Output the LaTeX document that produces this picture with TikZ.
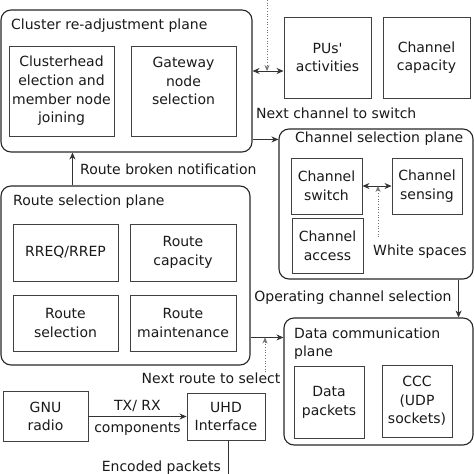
\documentclass[tikz,border=0pt]{standalone}
\usepackage{fontspec}
\setmainfont{DejaVu Sans}
\usetikzlibrary{arrows.meta, positioning}
\newcommand{\lbl}{\fontsize{14}{18.7}\selectfont}

\begin{document}
\begin{tikzpicture}[
  x=1pt, y=-1pt,
  plane/.style={rectangle, rounded corners=10pt, draw=black!85, line width=1.1pt, inner sep=0pt},
  block/.style={rectangle, draw=black!75, line width=0.9pt, align=center, inner sep=0pt, font=\lbl, text=black!90},
  title/.style={anchor=west, inner sep=0pt, align=left, font=\lbl, text=black!90},
  note/.style={inner sep=0pt, align=center, font=\lbl, text=black!90},
  arrow/.style={line width=0.8pt, draw=black!80, -{Stealth[length=7pt, width=6pt]}},
  twoway/.style={line width=0.8pt, draw=black!80, {Stealth[length=7pt, width=6pt]}-{Stealth[length=7pt, width=6pt]}},
  hint/.style={dotted, line width=0.7pt, draw=black!55, -{Stealth[length=6pt, width=5pt]}}
]
  \useasboundingbox (0,0) rectangle (474,474);

  % Cluster re-adjustment plane
  \node (cluster) [plane, minimum width=251pt, minimum height=142pt] at (126.5,81) {};
  \node (clustertitle) [title] at (11,26) {Cluster re-adjustment plane};
  \node (chead) [block, minimum width=105pt, minimum height=90pt] at (61.5,91) {Clusterhead\\election and\\member node\\joining};
  \node (gway) [block, minimum width=105pt, minimum height=90pt] at (183.5,91) {Gateway\\node\\selection\\[-4pt]\strut};

  % Top right boxes
  \node (pus) [block, minimum width=87pt, minimum height=81pt] at (327.5,57.5) {PUs\textquotesingle\\activities};
  \node (chcap) [block, minimum width=87pt, minimum height=81pt] at (426.5,57.5) {Channel\\capacity};

  % Channel selection plane
  \node (chsel) [plane, minimum width=194pt, minimum height=150pt] at (376,204) {};
  \node (chseltitle) [title] at (295,139) {Channel selection plane};
  \node (chswitch) [block, minimum width=71pt, minimum height=56pt] at (326.5,186) {Channel\\switch};
  \node (chsense) [block, minimum width=70pt, minimum height=56pt] at (427,186) {Channel\\sensing};
  \node (chaccess) [block, minimum width=71pt, minimum height=55pt] at (327.5,245.5) {Channel\\access};
  \node (white) [note] at (420,252) {White spaces};

  % Route selection plane
  \node (route) [plane, minimum width=249pt, minimum height=179pt] at (125.5,275.5) {};
  \node (routetitle) [title] at (13,202) {Route selection plane};
  \node (rreq) [block, minimum width=105pt, minimum height=57pt] at (65.5,252.5) {RREQ/RREP};
  \node (rcap) [block, minimum width=106pt, minimum height=57pt] at (183,252.5) {Route\\capacity};
  \node (rsel) [block, minimum width=105pt, minimum height=56pt] at (65.5,323) {Route\\selection};
  \node (rmaint) [block, minimum width=106pt, minimum height=56pt] at (183,323) {Route\\maintenance};

  % Data communication plane
  \node (data) [plane, minimum width=189pt, minimum height=127pt] at (378.5,381.5) {};
  \node (datatitle) [title] at (294,343.5) {Data communication\\plane};
  \node (dpack) [block, minimum width=70pt, minimum height=72pt] at (329,402) {Data\\packets};
  \node (ccc) [block, minimum width=70pt, minimum height=72pt] at (417,401) {CCC\\(UDP\\sockets)};

  % GNU radio / UHD
  \node (gnu) [block, minimum width=85pt, minimum height=50pt] at (45.5,416.5) {GNU\\radio};
  \node (uhd) [block, minimum width=78pt, minimum height=47pt] at (226,416.5) {UHD\\Interface};

  % Free labels
  \node (nextch) [title] at (256,113) {Next channel to switch};
  \node (opch) [note] at (353,298) {Operating channel selection};
  \node (nextrt) [note] at (211,378) {Next route to select};
  \node (encoded) [note, anchor=east] at (221,468) {Encoded packets};

  % Helper points
  \coordinate (topin) at (267,0);
  \coordinate (puline) at ([yshift=-13.5pt]pus.west);
  \coordinate (chin) at ([yshift=-11pt]chsel.north west);
  \coordinate (rb) at ([xshift=72pt]route.north west);
  \coordinate (oc) at ([xshift=-15pt]chsel.south east);
  \coordinate (rd) at ([yshift=-20pt]data.north west);
  \coordinate (rdhint) at (265,372);
  \coordinate (wshint) at (378,237);
  \coordinate (uhdout) at (228,474);

  % Connectors
  \draw [twoway] (cluster.east |- puline) -- (puline);
  \draw [hint] (topin) -- (topin |- puline);
  \draw [arrow] (cluster.east |- chin) -- (chin);
  \draw [twoway] (chswitch.east) -- (chsense.west);
  \draw [hint] (wshint) -- (wshint |- chswitch.east);
  \draw [arrow] (rb) -- (rb |- cluster.south) node [midway, right=4pt, font=\lbl, text=black!90] {Route broken notification};
  \draw [arrow] (oc) -- (oc |- data.north);
  \draw [arrow] (route.east |- rd) -- (rd);
  \draw [hint] (rdhint) -- (rdhint |- rd);
  \draw [arrow] (gnu.east) -- node [above=1pt, font=\lbl, text=black!90] {TX/ RX} node [below=2pt, font=\lbl, text=black!90] {components} (uhd.west);
  \draw [line width=0.8pt, draw=black!80] (uhd.south -| uhdout) -- (uhdout);

\end{tikzpicture}
\end{document}
